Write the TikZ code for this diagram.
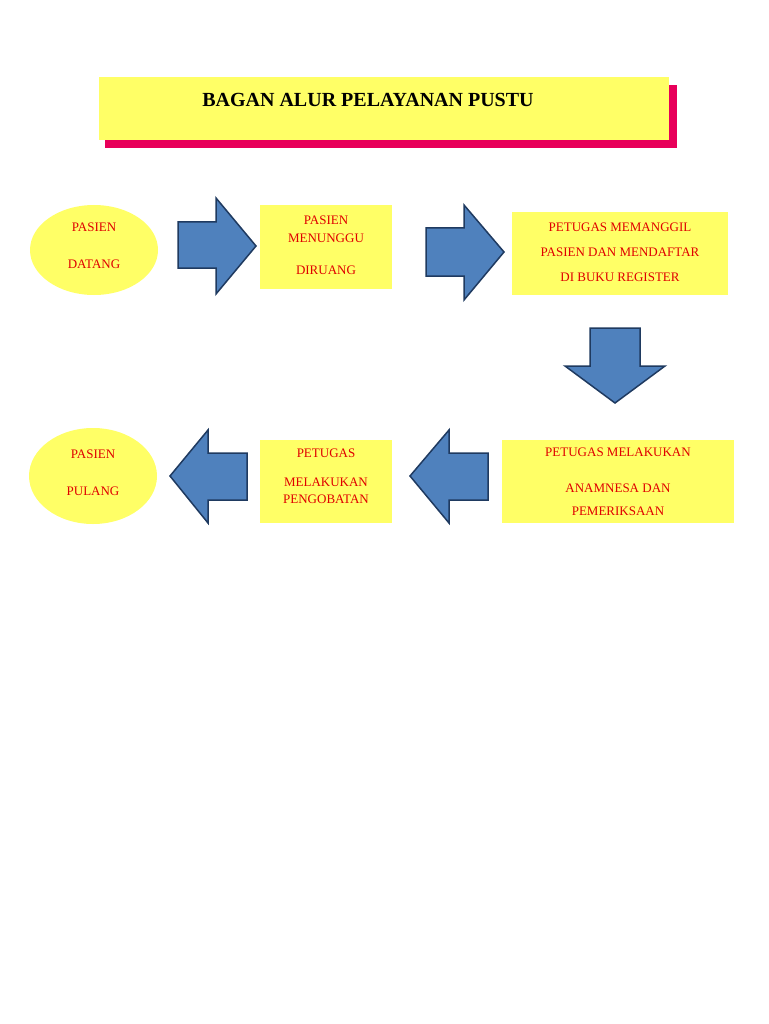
\documentclass[tikz,border=0pt]{standalone}
\usepackage{fontspec}
\setmainfont{Liberation Serif}
\usetikzlibrary{positioning}
\definecolor{kuning}{HTML}{FFFF66}
\definecolor{biru}{HTML}{4F81BD}
\definecolor{tepi}{HTML}{1F3A60}
\definecolor{merah}{HTML}{E8005A}
\definecolor{teks}{HTML}{E00000}
\tikzset{
  kotak/.style={fill=kuning, draw=none},
  tulis/.style={text=teks, font=\fontsize{13}{15}\selectfont, inner sep=0pt},
  panah/.style={fill=biru, draw=tepi, line width=1.5pt, line join=miter}
}
\begin{document}
\begin{tikzpicture}[x=1pt, y=-1pt]
                \useasboundingbox (0,0) rectangle (768,1024);

                % judul
                \fill[merah] (105,85) rectangle (677,148);
                \fill[kuning] (99,77) rectangle (669,140);
                \node[font=\fontsize{20}{24}\selectfont\bfseries] (judul) at (368,100) {BAGAN ALUR PELAYANAN PUSTU};

                % baris atas
                \fill[kuning] (94,250) ellipse [x radius=64, y radius=45];
                \node[tulis] (A1) at (94,227) {PASIEN};
                \node[tulis] (A2) at (94,264) {DATANG};

                \draw[panah] (178,222) -- (216,222) -- (216,198) -- (256,246) -- (216,294) -- (216,268) -- (178,268) -- cycle;

                \fill[kotak] (260,205) rectangle (392,289);
                \node[tulis] (B1) at (326,220) {PASIEN};
                \node[tulis] (B2) at (326,238) {MENUNGGU};
                \node[tulis] (B3) at (326,270) {DIRUANG};

                \draw[panah] (426,228) -- (464,228) -- (464,205) -- (504,252) -- (464,300) -- (464,276) -- (426,276) -- cycle;

                \fill[kotak] (512,212) rectangle (728,295);
                \node[tulis] (C1) at (620,227) {PETUGAS MEMANGGIL};
                \node[tulis] (C2) at (620,252) {PASIEN DAN MENDAFTAR};
                \node[tulis] (C3) at (620,277) {DI BUKU REGISTER};

                % turun
                \draw[panah] (590,328) -- (640,328) -- (640,366) -- (665,366) -- (615,403) -- (565,366) -- (590,366) -- cycle;

                % baris bawah
                \fill[kotak] (502,440) rectangle (734,523);
                \node[tulis] (D1) at (618,452) {PETUGAS MELAKUKAN};
                \node[tulis] (D2) at (618,488) {ANAMNESA DAN};
                \node[tulis] (D3) at (618,511) {PEMERIKSAAN};

                \draw[panah] (488,453) -- (449,453) -- (449,430) -- (410,476) -- (449,523) -- (449,500) -- (488,500) -- cycle;

                \fill[kotak] (260,440) rectangle (392,523);
                \node[tulis] (E1) at (326,453) {PETUGAS};
                \node[tulis] (E2) at (326,482) {MELAKUKAN};
                \node[tulis] (E3) at (326,499) {PENGOBATAN};

                \draw[panah] (247,453) -- (208,453) -- (208,430) -- (170,476) -- (208,523) -- (208,500) -- (247,500) -- cycle;

                \fill[kuning] (93,476) ellipse [x radius=64, y radius=48];
                \node[tulis] (F1) at (93,454) {PASIEN};
                \node[tulis] (F2) at (93,491) {PULANG};
\end{tikzpicture}
\end{document}
